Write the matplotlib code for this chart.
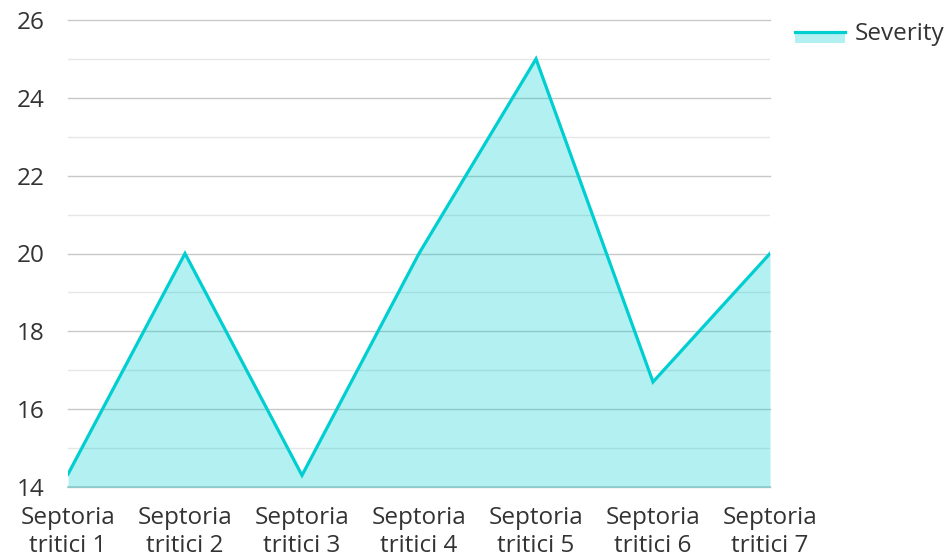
import matplotlib
matplotlib.use("Agg")
import matplotlib.pyplot as plt
from matplotlib.legend_handler import HandlerBase
from matplotlib.patches import Rectangle
from matplotlib.lines import Line2D
from matplotlib.ticker import MultipleLocator

categories = ["Septoria\ntritici 1", "Septoria\ntritici 2", "Septoria\ntritici 3",
              "Septoria\ntritici 4", "Septoria\ntritici 5", "Septoria\ntritici 6",
              "Septoria\ntritici 7"]
severity = [14.33, 20.0, 14.3, 20.0, 25.0, 16.7, 20.0]
series_name = "Severity"

LINE = "#00CED1"
TEXT = "#333333"
FS = 17.5

plt.rcParams["font.family"] = ["Open Sans", "DejaVu Sans"]

fig = plt.figure(figsize=(9.49, 5.6), dpi=100)
ax = fig.add_axes([68 / 949, 73 / 560, 702 / 949, 467 / 560])

x = list(range(len(categories)))
ax.fill_between(x, severity, 14, color=LINE, alpha=0.3, linewidth=0, zorder=2)
ax.plot(x, severity, color=LINE, linewidth=2.3, zorder=3, solid_joinstyle="miter")

ax.set_xlim(0, len(categories) - 1)
ax.set_ylim(14, 26)
ax.yaxis.set_major_locator(MultipleLocator(2))
ax.yaxis.set_minor_locator(MultipleLocator(1))
ax.grid(which="major", axis="y", color="#c8c8c8", linewidth=1.0, zorder=1)
ax.grid(which="minor", axis="y", color="#e6e6e6", linewidth=1.0, zorder=1)
for gl in ax.get_ygridlines():
    gl.set_clip_on(False)
ax.set_axisbelow(True)

for s in ax.spines.values():
    s.set_visible(False)
ax.spines["bottom"].set_visible(True)
ax.spines["bottom"].set_color("#8ccacb")
ax.spines["bottom"].set_linewidth(1.2)
ax.spines["bottom"].set_zorder(4)

ax.set_xticks(x)
ax.set_xticklabels(categories, linespacing=1.2)
ax.tick_params(axis="both", which="both", length=0, labelsize=FS, colors=TEXT)
ax.tick_params(axis="y", pad=17)
ax.tick_params(axis="x", pad=14)


class AreaHandler(HandlerBase):
    """Legend key for an area series: outline on top of a filled band."""

    def create_artists(self, legend, orig_handle, xdescent, ydescent,
                       width, height, fontsize, trans):
        top = height * 0.48
        bottom = -height * 0.2
        rect = Rectangle((-xdescent, bottom - ydescent), width, top - bottom,
                         facecolor=LINE, alpha=0.3, edgecolor="none",
                         transform=trans)
        line = Line2D([-xdescent, -xdescent + width], [top, top],
                      color=LINE, linewidth=2.3, transform=trans)
        return [rect, line]


handle = Line2D([], [], color=LINE)
fig.legend([handle], [series_name], handler_map={Line2D: AreaHandler()},
           loc="upper left", bbox_to_anchor=(795 / 949, 1 - 22 / 560),
           frameon=False, fontsize=FS, labelcolor=TEXT,
           handlelength=2.05, handletextpad=0.42, borderaxespad=0, borderpad=0)

fig.savefig("out.png", dpi=100)
